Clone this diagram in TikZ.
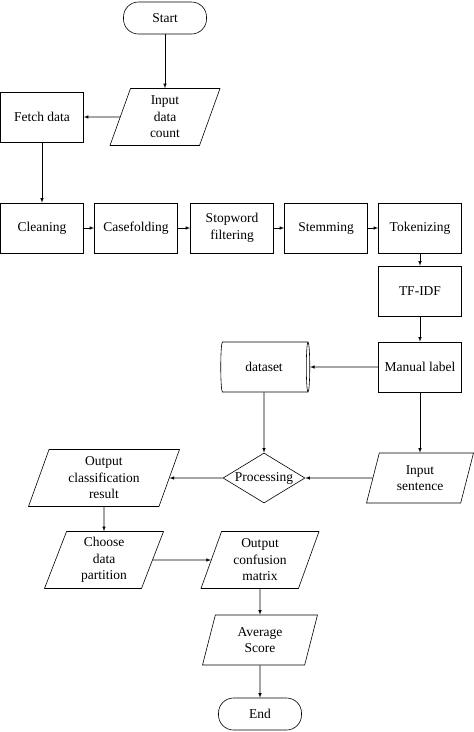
\documentclass[tikz,border=0pt]{standalone}
\usepackage{fontspec}
\setmainfont{Liberation Serif}
\usepackage{tikz}
\usetikzlibrary{shapes.geometric}
\usetikzlibrary{arrows}

\begin{document}
\begin{tikzpicture}
			[line width=0.6pt, font=\fontsize{13.5}{16.5}\selectfont,
			box/.style = {draw, rectangle, minimum width=83pt, minimum height=50pt, inner sep=1pt, align=center},
			term/.style = {draw, rectangle, rounded corners=15pt, minimum width=83pt, minimum height=32pt},
			io/.style = {draw, trapezium, trapezium left angle=65, trapezium right angle=115, trapezium stretches body, minimum height=57pt, inner sep=1pt, align=center},
			db/.style = {draw, cylinder, aspect=0.3, minimum width=50pt, minimum height=89pt, inner sep=1pt},
			decision/.style = {draw, diamond, aspect=1.64, minimum width=82pt, minimum height=50pt, inner sep=0pt}]
			\useasboundingbox (0,0) rectangle (474pt,-732pt);
			\node[term] (start) at (165pt,-18pt) {Start};
			\node[io, minimum width=110pt] (input) [below of = start, node distance = 99pt] {Input\\data\\count};
			\node[box] (fetch) [left of = input, node distance = 123pt] {Fetch data};
			\node[box] (clean) [below of = fetch, node distance = 111pt] {Cleaning};
			\node[box] (case) [right of = clean, node distance = 94pt] {Casefolding};
			\node[box] (stop) [right of = case, node distance = 96pt] {Stopword\\filtering};
			\node[box] (stem) [right of = stop, node distance = 94pt] {Stemming};
			\node[box] (token) [right of = stem, node distance = 94pt] {Tokenizing};
			\node[box] (tfidf) [below of = token, node distance = 63pt] {TF-IDF};
			\node[box] (manual) [below of = tfidf, node distance = 76pt] {Manual label};
			\node[db] (dataset) [left of = manual, node distance = 156pt] {dataset};
			\node[decision] (proc) [below of = dataset, node distance = 111pt] {Processing};
			\node[io, minimum width=107pt, minimum height=50pt] (sentence) [below of = manual, node distance = 111pt] {Input\\sentence};
			\node[io, minimum width=151pt] (outcls) [left of = proc, node distance = 160pt] {Output\\classification\\result};
			\node[io, minimum width=119pt] (choose) [below of = outcls, node distance = 82pt] {Choose\\data\\partition};
			\node[io, minimum width=118pt] (conf) [right of = choose, node distance = 156pt] {Output\\confusion\\matrix};
			\node[io, minimum width=115pt, minimum height=50pt] (avg) [below of = conf, node distance = 80pt] {Average\\Score};
			\node[term] (end) [below of = avg, node distance = 74pt] {End};
			\draw[-latex] (start) -- (input);
			\draw[-latex] (input) -- (fetch);
			\draw[-latex] (fetch) -- (clean);
			\draw[-latex] (clean) -- (case);
			\draw[-latex] (case) -- (stop);
			\draw[-latex] (stop) -- (stem);
			\draw[-latex] (stem) -- (token);
			\draw[-latex] (token) -- (tfidf);
			\draw[-latex] (tfidf) -- (manual);
			\draw[-latex] (manual) -- (dataset);
			\draw[-latex] (manual) -- (sentence);
			\draw[-latex] (dataset) -- (proc);
			\draw[-latex] (sentence) -- (proc);
			\draw[-latex] (proc) -- (outcls);
			\draw[-latex] (outcls) -- (choose);
			\draw[-latex] (choose) -- (conf);
			\draw[-latex] (conf) -- (avg);
			\draw[-latex] (avg) -- (end);
		\end{tikzpicture}
\end{document}
